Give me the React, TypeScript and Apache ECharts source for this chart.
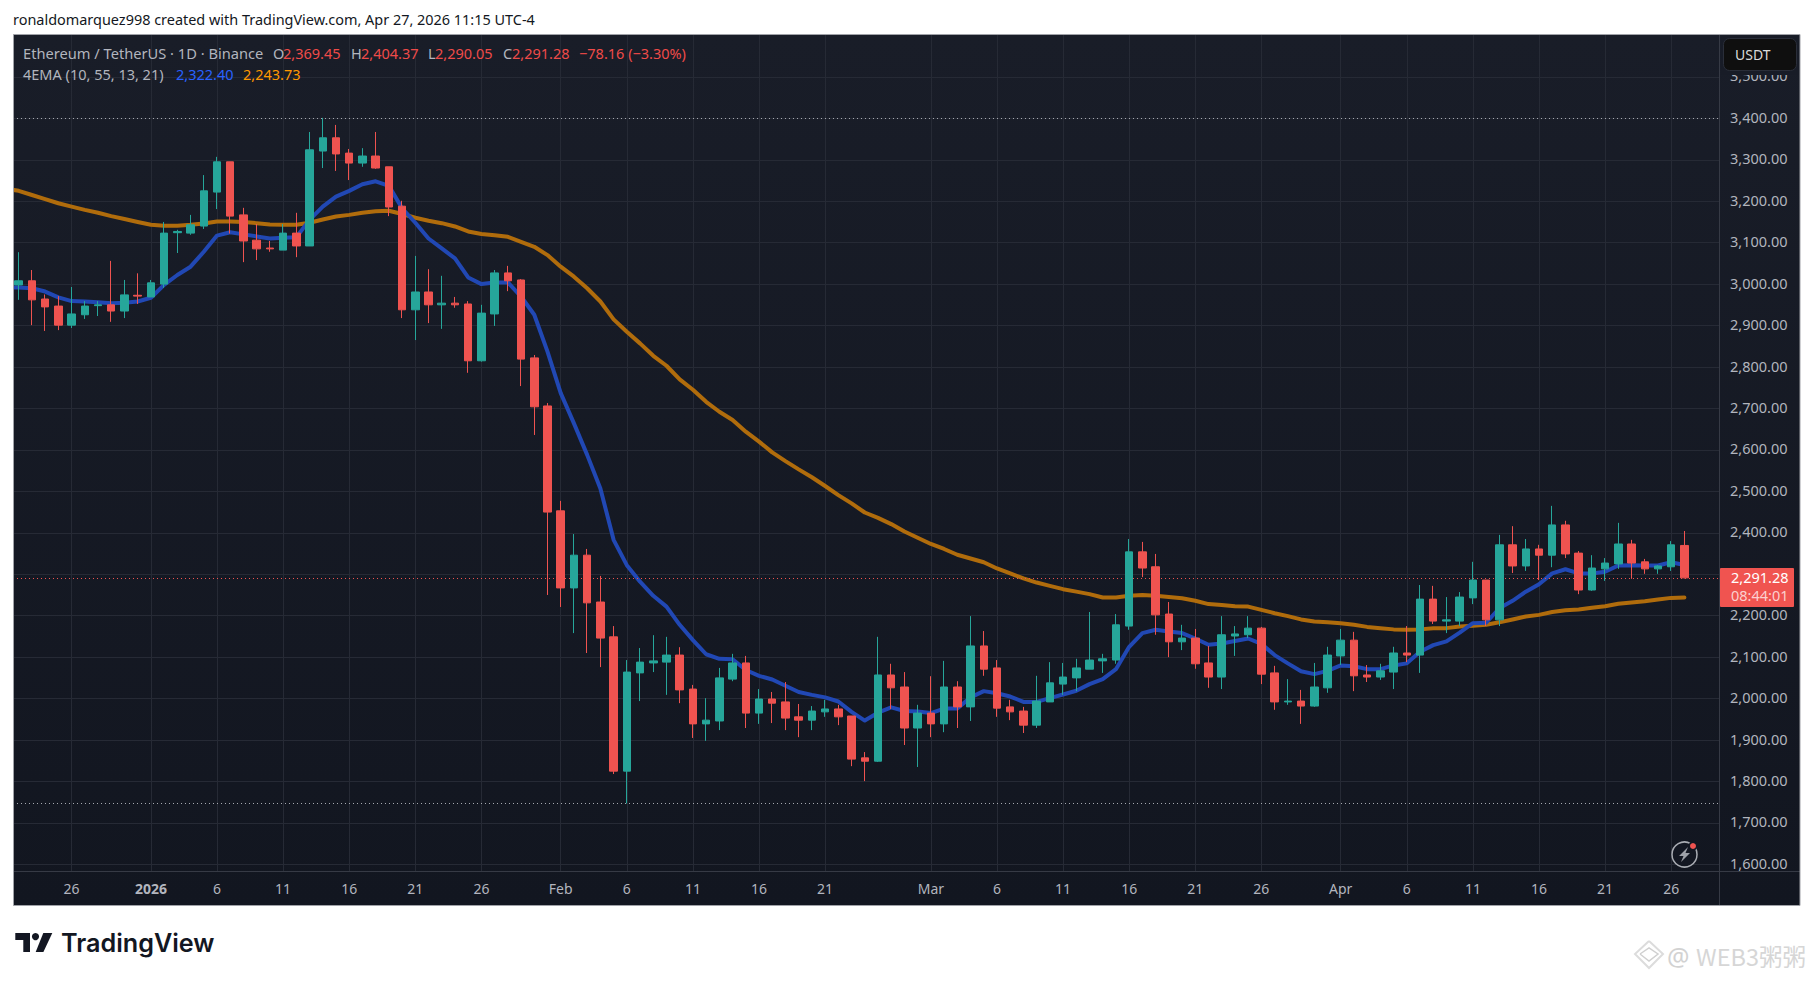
import React, { useEffect, useRef } from "react";
import * as echarts from "echarts";

// Day index: 0 = 22 Dec 2025, 126 = 27 Apr 2026
const opens = [2998,3008,2964,2947,2901,2926,2948,2950,2935,2973,2969,3000,3124,3123,3140,3222,3295,3167,3106,3087,3082,3123,3092,3321,3353,3316,3292,3309,3283,3188,2938,2981,2950,2954,2952,2815,2928,3027,3010,2822,2706,2453,2267,2346,2233,2149,1825,2062,2086,2088,2105,2023,1939,1946,2047,2086,1965,1999,1992,1956,1948,1968,1975,1958,1857,1849,2057,2028,1929,1965,1939,2028,1980,2127,2074,1980,1970,1936,1992,2035,2050,2071,2091,2093,2175,2354,2318,2204,2137,2146,2086,2052,2151,2154,2170,2062,1992,1994,1982,2026,2103,2141,2057,2052,2064,2110,2105,2240,2187,2187,2243,2286,2190,2371,2320,2361,2346,2419,2351,2262,2313,2325,2373,2330,2313,2318,2369.45];
const closes = [3008,2962,2945,2901,2928,2947,2950,2935,2974,2971,3003,3123,3127,3143,3225,3295,3164,3104,3085,3085,3123,3092,3324,3353,3314,3292,3309,3280,3186,2938,2981,2950,2954,2950,2815,2930,3027,3008,2819,2704,2450,2267,2346,2231,2146,1825,2064,2088,2091,2105,2021,1939,1948,2050,2086,1965,1999,1989,1953,1948,1970,1975,1956,1854,1849,2057,2026,1929,1965,1939,2028,1980,2127,2071,1977,1968,1936,1994,2038,2052,2074,2093,2096,2178,2354,2315,2202,2137,2146,2084,2052,2154,2156,2170,2059,1992,1994,1982,2028,2105,2141,2055,2052,2067,2110,2105,2240,2187,2190,2245,2286,2190,2371,2320,2361,2346,2419,2349,2262,2315,2327,2373,2327,2313,2320,2371,2291.28];
const highs = [3077,3034,2975,2971,2993,2959,2959,3056,3010,3026,3010,3150,3131,3167,3263,3307,3295,3184,3145,3104,3145,3172,3367,3401,3384,3326,3328,3367,3283,3201,3068,3036,3020,2969,2959,2950,3034,3044,3012,2829,2713,2477,2397,2361,2296,2175,2093,2122,2153,2149,2124,2033,2001,2074,2108,2103,2023,2016,2040,1987,1982,1997,1985,1958,1871,2149,2084,2064,1985,2054,2091,2042,2199,2163,2093,1997,1980,2055,2088,2086,2096,2209,2108,2204,2385,2378,2349,2233,2178,2168,2127,2199,2175,2199,2173,2079,2047,2021,2086,2125,2168,2161,2081,2084,2125,2175,2274,2272,2245,2257,2330,2286,2395,2416,2385,2371,2465,2429,2356,2346,2339,2424,2383,2337,2322,2380,2404.37];
const lows = [2962,2901,2887,2889,2894,2916,2923,2909,2918,2952,2969,2991,3075,3119,3133,3181,3122,3053,3058,3078,3082,3065,3092,3280,3273,3251,3283,3278,3164,2918,2865,2906,2892,2943,2786,2813,2899,2983,2754,2636,2250,2221,2158,2110,2076,1818,1747,1994,2064,2009,1989,1905,1898,1924,2042,1929,1939,1941,1924,1907,1924,1956,1936,1837,1801,1847,1975,1888,1835,1907,1919,1929,1946,2055,1956,1948,1917,1929,1992,2009,2018,2071,2062,2084,2166,2293,2154,2100,2117,2072,2026,2023,2103,2146,2035,1973,1985,1939,1980,2014,2081,2018,2040,2045,2023,2088,2062,2180,2158,2175,2228,2175,2175,2303,2308,2286,2317,2339,2252,2260,2284,2313,2289,2301,2301,2308,2290.05];

// EMA values start one day before the first candle (the lines run in from the left edge)
const emaFirstDay = -1;
const emaFast = [2992,2992,2990,2982,2968,2959,2958,2956,2954,2955,2958,2967,2998,3022,3042,3078,3117,3125,3120,3115,3110,3112,3113,3155,3187,3211,3225,3241,3248,3237,3183,3148,3110,3086,3062,3016,3000,3004,3004,2970,2926,2837,2737,2664,2588,2507,2383,2322,2282,2248,2222,2178,2141,2107,2096,2095,2069,2055,2046,2031,2016,2009,2003,1993,1968,1947,1966,1979,1970,1969,1965,1976,1976,2003,2018,2013,2005,1992,1992,2001,2010,2019,2035,2047,2071,2125,2158,2166,2162,2158,2145,2130,2133,2139,2145,2132,2105,2085,2066,2059,2067,2080,2078,2071,2071,2080,2085,2113,2129,2138,2159,2182,2183,2218,2236,2258,2276,2302,2312,2302,2302,2306,2321,2322,2321,2321,2329,2322.4];
const emaSlow = [3230,3225,3215,3205,3195,3187,3179,3172,3164,3157,3150,3143,3141,3141,3143,3146,3151,3151,3150,3147,3144,3143,3143,3148,3156,3163,3167,3172,3176,3177,3169,3160,3153,3147,3139,3127,3121,3118,3114,3102,3090,3070,3042,3018,2990,2958,2915,2885,2857,2827,2803,2770,2745,2716,2692,2672,2644,2620,2594,2573,2553,2534,2513,2491,2471,2449,2436,2421,2403,2388,2373,2361,2347,2338,2329,2314,2302,2290,2280,2272,2264,2258,2252,2244,2244,2248,2250,2248,2245,2242,2236,2228,2226,2223,2222,2214,2206,2199,2191,2186,2184,2182,2178,2173,2170,2167,2166,2167,2170,2170,2174,2176,2178,2184,2191,2198,2202,2209,2213,2215,2219,2223,2229,2232,2235,2239,2243,2243.73];

const priceTicks = [1600,1700,1800,1900,2000,2100,2200,2300,2400,2500,2600,2700,2800,2900,3000,3100,3200,3300,3400,3500];
// 2,300.00 sits behind the last-price tag in the reference, so it has a grid line but no visible label
const priceLabels = [1600,1700,1800,1900,2000,2100,2200,2400,2500,2600,2700,2800,2900,3000,3100,3200,3300,3400,3500];
const dayTicks = [4,10,15,20,25,30,35,41,46,51,56,61,69,74,79,84,89,94,100,105,110,115,120,125];
const dayTickLabels = ["26","2026","6","11","16","21","26","Feb","6","11","16","21","Mar","6","11","16","21","26","Apr","6","11","16","21","26"];

const sessionHigh = 3401;
const sessionLow = 1747;
const lastPrice = 2291.28;

const UP = "#26a69a";
const DOWN = "#ef5350";
const FONT = '"Noto Sans", Roboto, sans-serif';
const AXIS_TEXT = "#b2b5be";

function txt(x: number, y: number, text: string, fill: string, fontSize = 14.5, weight = "normal", family = FONT) {
  return {
    type: "text",
    x,
    y,
    z: 200,
    style: { text, fill, font: `${weight} ${fontSize}px ${family}`, verticalAlign: "middle", textVerticalAlign: "middle" },
  };
}

export default function App() {
  const ref = useRef<HTMLDivElement>(null);
  useEffect(() => {
    document.body.style.margin = "0";
    const chart = echarts.init(ref.current!, undefined, { renderer: "svg" });
    const pxPerDay = 13.22;
    const firstX = 18.7;
    const plotL = 13;
    const plotR = 1719;
    const plotT = 34;
    const plotB = 871;
    const candles = opens.map((o, i) => [i, o, closes[i], lows[i], highs[i]]);
    const fast = emaFast.map((v, i) => [i + emaFirstDay, v]);
    const slow = emaSlow.map((v, i) => [i + emaFirstDay, v]);
    const pxPerPrice = 0.4145;
    const yMax = 3400 + (118.3 - plotT) / pxPerPrice;
    const yMin = 3400 - (plotB - 118.3) / pxPerPrice;

    const graphics: any[] = [
      {
        type: "rect",
        z: -10,
        shape: { x: 13.5, y: 34.5, width: 1786.5, height: 871 },
        style: {
          fill: {
            type: "linear", x: 0, y: 0, x2: 0, y2: 1,
            colorStops: [{ offset: 0, color: "#191d28" }, { offset: 1, color: "#121620" }],
          },
        },
      },
      // page margin and frame drawn above the lines, which the chart clips slightly wide
      { type: "rect", z: 150, shape: { x: 0, y: 30, width: 13, height: 880 }, style: { fill: "#ffffff" } },
      { type: "rect", z: 151, shape: { x: 13.5, y: 34.5, width: 1786.5, height: 871 }, style: { fill: "none", stroke: "#a0a2a8", lineWidth: 1 } },
      { type: "line", z: 1, shape: { x1: 14, y1: 871.5, x2: 1800, y2: 871.5 }, style: { stroke: "#363a45", lineWidth: 1 } },
      { type: "line", z: 1, shape: { x1: 1719.5, y1: 35, x2: 1719.5, y2: 905 }, style: { stroke: "#363a45", lineWidth: 1 } },
      txt(13, 19, "ronaldomarquez998 created with TradingView.com, Apr 27, 2026 11:15 UTC-4", "#131722", 14.45),
      txt(23, 53, "Ethereum / TetherUS · 1D · Binance", AXIS_TEXT, 14.65),
      txt(273, 53, "O", AXIS_TEXT), txt(283, 53, "2,369.45", "#ef4b49"),
      txt(351, 53, "H", AXIS_TEXT), txt(361, 53, "2,404.37", "#ef4b49"),
      txt(428, 53, "L", AXIS_TEXT), txt(435, 53, "2,290.05", "#ef4b49"),
      txt(503, 53, "C", AXIS_TEXT), txt(512, 53, "2,291.28", "#ef4b49"),
      txt(579, 53, "−78.16 (−3.30%)", "#ef4b49"),
      txt(23, 74, "4EMA (10, 55, 13, 21)", AXIS_TEXT),
      txt(176, 74, "2,322.40", "#2962ff"),
      txt(243, 74, "2,243.73", "#ff9800"),
      // price scale button
      { type: "rect", z: 190, shape: { x: 1721, y: 36, width: 78, height: 39 }, style: { fill: "#181c27" } },
      { type: "rect", z: 195, shape: { x: 1723.5, y: 38.5, width: 73, height: 32, r: 6 }, style: { fill: "#0f0f0f", stroke: "#2a2e39", lineWidth: 1 } },
      txt(1735, 54, "USDT", "#dbdbdb", 14),
      // last price tag
      { type: "rect", z: 190, shape: { x: 1720, y: 568, width: 74, height: 39, r: 1 }, style: { fill: "#f05450" } },
      txt(1731, 576.5, "2,291.28", "#ffffff"),
      txt(1731, 594.5, "08:44:01", "#fbd0cf"),
      // replay icon
      { type: "circle", z: 190, shape: { cx: 1684.5, cy: 854.5, r: 12.5 }, style: { fill: "#131722", stroke: "#a9acb3", lineWidth: 1.5 } },
      { type: "polygon", z: 191, shape: { points: [[1688, 847], [1679, 856], [1683.5, 856], [1681, 862], [1690, 853], [1685.5, 853]] }, style: { fill: "#9ea1a9" } },
      { type: "circle", z: 192, shape: { cx: 1693, cy: 846, r: 4.5 }, style: { fill: "#131722" } },
      { type: "circle", z: 193, shape: { cx: 1693, cy: 846, r: 3 }, style: { fill: "#ef5350" } },
      // TradingView logo
      { type: "polygon", z: 190, shape: { points: [[15.3, 933], [30, 933], [30, 952], [23.3, 952], [23.3, 940], [15.3, 940]] }, style: { fill: "#131722" } },
      { type: "circle", z: 190, shape: { cx: 35.5, cy: 936.6, r: 3.6 }, style: { fill: "#131722" } },
      { type: "polygon", z: 190, shape: { points: [[43.3, 933], [52.3, 933], [43.4, 952], [35.7, 952]] }, style: { fill: "#131722" } },
      txt(61, 943, "TradingView", "#131722", 25.2, "600", 'Inter, Roboto, sans-serif'),
      // watermark
      { type: "polyline", z: 190, shape: { points: [[1649, 941], [1663, 954], [1649, 968], [1635, 954], [1649, 941]] }, style: { stroke: "#dcdcdc", lineWidth: 2, fill: "none" } },
      { type: "polyline", z: 190, shape: { points: [[1640, 954], [1649, 948], [1658, 954], [1649, 961], [1640, 954]] }, style: { stroke: "#d0d0d0", lineWidth: 1.5, fill: "none" } },
      txt(1667, 956, "@", "#d2d2d2", 25, "normal", '"Noto Sans", sans-serif'),
      txt(1696, 956, "WEB3粥粥", "#d6d6d6", 23.5, "normal", '"Noto Sans CJK SC", sans-serif'),
    ];

    const option: any = {
      animation: false,
      backgroundColor: "#ffffff",
      grid: { left: plotL, top: plotT, width: plotR - plotL, height: plotB - plotT, containLabel: false },
      xAxis: {
        type: "value",
        min: (plotL - firstX) / pxPerDay,
        max: (plotR - firstX) / pxPerDay,
        axisLine: { show: false },
        axisTick: { show: false, customValues: dayTicks },
        splitLine: { show: true, lineStyle: { color: "#262a35", width: 1 } },
        axisLabel: {
          customValues: dayTicks,
          margin: 10,
          color: AXIS_TEXT,
          fontSize: 14,
          fontFamily: FONT,
          formatter: (v: number) => {
            const s = dayTickLabels[dayTicks.indexOf(v)] ?? "";
            return s === "2026" ? `{b|${s}}` : s;
          },
          rich: { b: { fontWeight: "bold", fontSize: 14, color: AXIS_TEXT, fontFamily: FONT } },
        },
      },
      yAxis: {
        type: "value",
        position: "right",
        min: yMin,
        max: yMax,
        axisLine: { show: false },
        axisTick: { show: false, customValues: priceTicks },
        splitLine: { show: true, lineStyle: { color: "#262a35", width: 1 } },
        axisLabel: {
          customValues: priceLabels,
          margin: 11,
          color: AXIS_TEXT,
          fontSize: 14.5,
          fontFamily: FONT,
          formatter: (v: number) => `{p|${v.toLocaleString("en-US", { minimumFractionDigits: 2, maximumFractionDigits: 2 })}}`,
          rich: { p: { color: AXIS_TEXT, fontSize: 14.5, fontFamily: FONT, padding: [0, 0, 3, 0] } },
        },
      },
      graphic: { elements: graphics },
      series: [
        {
          name: "EMA 55",
          type: "line",
          z: 2,
          data: slow,
          showSymbol: false,
          symbol: "none",
          lineStyle: { color: "#b06c0c", width: 4, cap: "round", join: "round" },
          markLine: {
            silent: true,
            symbol: "none",
            label: { show: false },
            lineStyle: { color: "#a6a9b0", type: [1, 3], width: 1 },
            data: [{ yAxis: sessionHigh }, { yAxis: sessionLow }],
          },
        },
        {
          name: "EMA 13",
          type: "line",
          z: 3,
          data: fast,
          showSymbol: false,
          symbol: "none",
          lineStyle: { color: "#2148b4", width: 4, cap: "round", join: "round" },
          markLine: {
            silent: true,
            symbol: "none",
            label: { show: false },
            lineStyle: { color: "#ef5350", type: [1, 3], width: 1 },
            data: [{ yAxis: lastPrice }],
          },
        },
        {
          name: "ETHUSDT",
          type: "candlestick",
          z: 5,
          barWidth: 8,
          data: candles,
          itemStyle: { color: UP, color0: DOWN, borderColor: UP, borderColor0: DOWN, borderWidth: 1 },
        },
      ],
    };
    chart.setOption(option);
    return () => chart.dispose();
  }, []);
  return <div ref={ref} style={{ position: "fixed", left: 0, top: 0, width: 1814, height: 981, background: "#fff" }} />;
}
